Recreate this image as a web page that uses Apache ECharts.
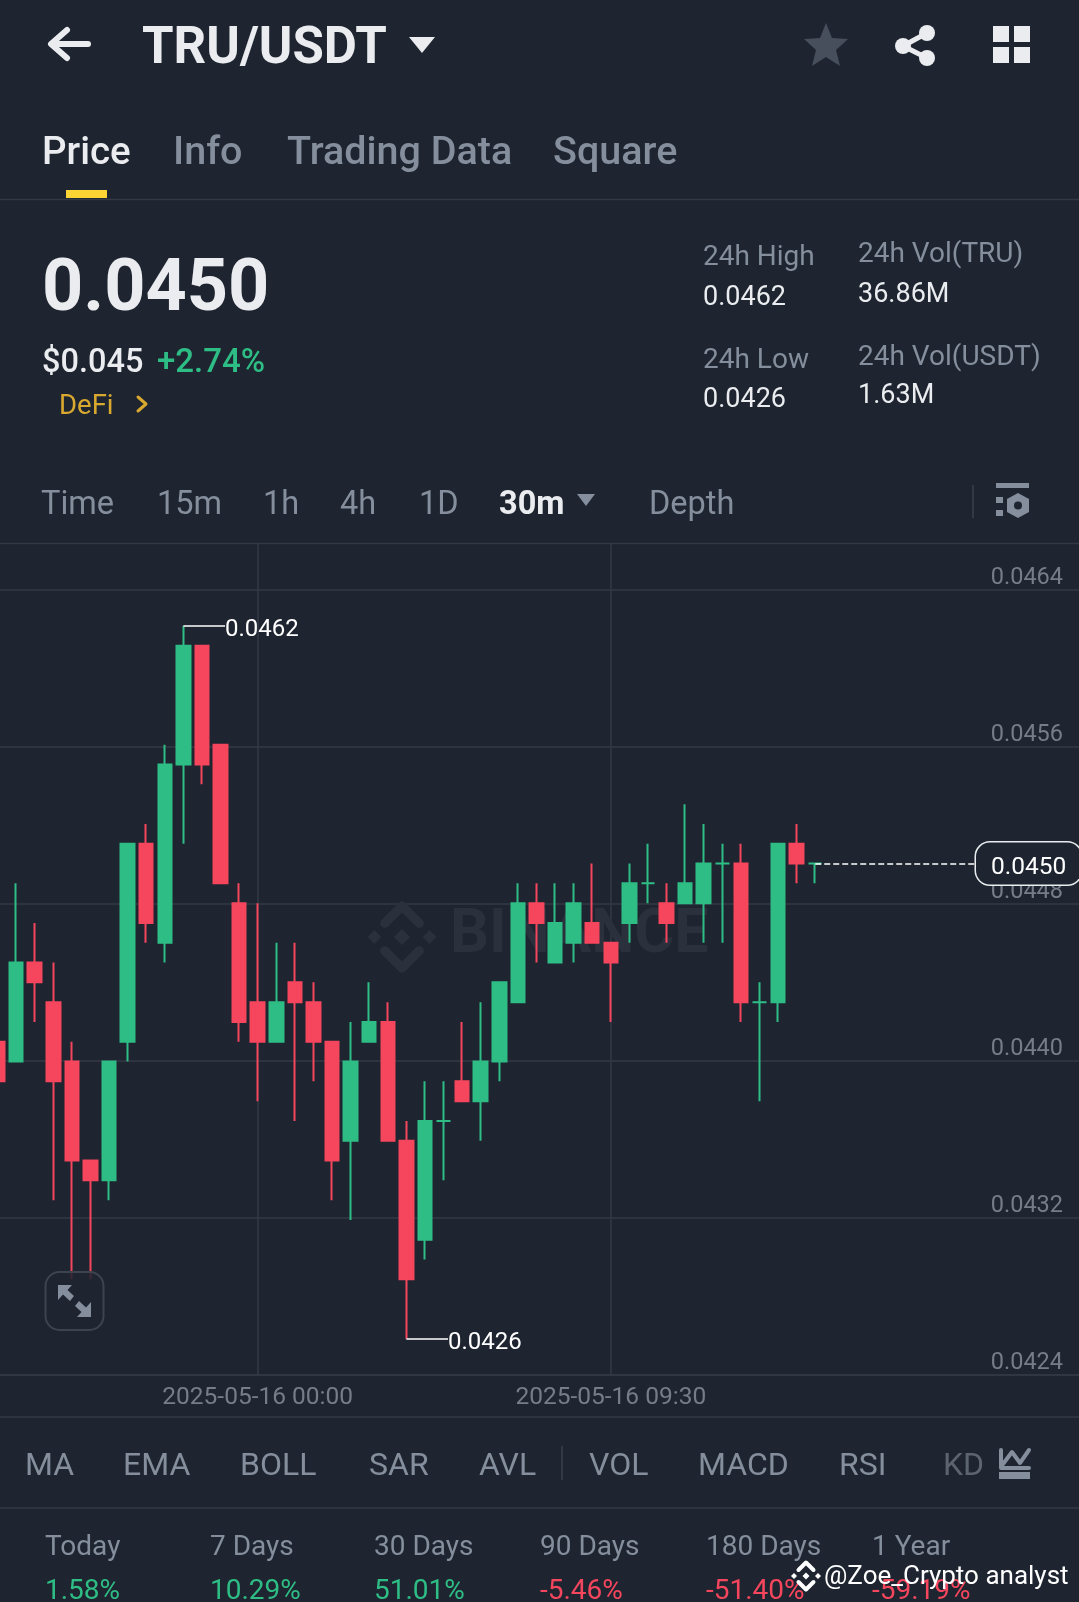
<!DOCTYPE html>
<html>
<head>
<meta charset="utf-8">
<style>html,body{margin:0;padding:0;background:#1e2530;}#main{width:1079px;height:1602px;}</style>
<script src="https://cdn.jsdelivr.net/npm/echarts@6/dist/echarts.min.js"></script>
</head>
<body>
<div id="main"></div>
<script>
// 30m candles
var categories = [
  '2025-05-15 17:00','2025-05-15 17:30','2025-05-15 18:00','2025-05-15 18:30','2025-05-15 19:00','2025-05-15 19:30',
  '2025-05-15 20:00','2025-05-15 20:30','2025-05-15 21:00','2025-05-15 21:30','2025-05-15 22:00','2025-05-15 22:30',
  '2025-05-15 23:00','2025-05-15 23:30','2025-05-16 00:00','2025-05-16 00:30','2025-05-16 01:00','2025-05-16 01:30',
  '2025-05-16 02:00','2025-05-16 02:30','2025-05-16 03:00','2025-05-16 03:30','2025-05-16 04:00','2025-05-16 04:30',
  '2025-05-16 05:00','2025-05-16 05:30','2025-05-16 06:00','2025-05-16 06:30','2025-05-16 07:00','2025-05-16 07:30',
  '2025-05-16 08:00','2025-05-16 08:30','2025-05-16 09:00','2025-05-16 09:30','2025-05-16 10:00','2025-05-16 10:30',
  '2025-05-16 11:00','2025-05-16 11:30','2025-05-16 12:00','2025-05-16 12:30','2025-05-16 13:00','2025-05-16 13:30',
  '2025-05-16 14:00','2025-05-16 14:30','2025-05-16 15:00','2025-05-16 15:30','2025-05-16 16:00','2025-05-16 16:30',
  '2025-05-16 17:00','2025-05-16 17:30','2025-05-16 18:00','2025-05-16 18:30','2025-05-16 19:00','2025-05-16 19:30',
  '2025-05-16 20:00','2025-05-16 20:30','2025-05-16 21:00','2025-05-16 21:30','2025-05-16 22:00','2025-05-16 22:30'
];
var opens  = [0.0441,0.0440,0.0445,0.0443,0.0440,0.0435,0.0434,0.0441,0.0451,0.0446,0.0455,0.0461,0.0456,0.0448,0.0443,
              0.0441,0.0444,0.0443,0.0441,0.0436,0.0441,0.0442,0.0436,0.0431,0.0437,0.0439,0.0438,0.0440,0.0443,0.0448,
              0.0445,0.0446,0.0447,0.0446,0.0447,0.0449,0.0448,0.0448,0.0448,0.0450,0.0450,0.0443,0.0443,0.0451,0.0450];
var closes = [0.0439,0.0445,0.0444,0.0439,0.0435,0.0434,0.0440,0.0451,0.0447,0.0455,0.0461,0.0455,0.0449,0.0442,0.0441,
              0.0443,0.0443,0.0441,0.0435,0.0440,0.0442,0.0436,0.0429,0.0437,0.0437,0.0438,0.0440,0.0444,0.0448,0.0447,
              0.0447,0.0448,0.0446,0.0445,0.0449,0.0449,0.0447,0.0449,0.0450,0.0450,0.0443,0.0443,0.0451,0.0450,0.0450];
var lows   = [0.0439,0.0440,0.0442,0.0433,0.0429,0.0429,0.0433,0.0440,0.0446,0.0445,0.0451,0.0454,0.0449,0.0441,0.0438,
              0.0441,0.0437,0.0439,0.0433,0.0432,0.0441,0.0436,0.0426,0.0430,0.0434,0.0438,0.0436,0.0439,0.0443,0.0445,
              0.0445,0.0445,0.0446,0.0442,0.0446,0.0448,0.0446,0.0448,0.0446,0.0446,0.0442,0.0438,0.0442,0.0449,0.0449];
var highs  = [0.0441,0.0449,0.0447,0.0445,0.0441,0.0435,0.0440,0.0451,0.0452,0.0456,0.0462,0.0461,0.0456,0.0449,0.0448,
              0.0446,0.0446,0.0444,0.0441,0.0442,0.0444,0.0443,0.0437,0.0439,0.0439,0.0442,0.0443,0.0444,0.0449,0.0449,
              0.0449,0.0449,0.0450,0.0446,0.0450,0.0451,0.0449,0.0453,0.0452,0.0451,0.0451,0.0444,0.0451,0.0452,0.0450];
// the gridlines sit on unround prices, the labels only show four decimals
var priceTicks = [0.042417,0.04321,0.044003,0.044796,0.045589,0.046382];
var timeTicks = ['2025-05-16 00:00','2025-05-16 09:30'];
var highIndex = 10, highPrice = 0.0462;
var lowIndex = 22, lowPrice = 0.0426;
var lastIndex = 44, lastPrice = 0.0450;

var tabs = ['Price','Info','Trading Data','Square'];
var intervals = ['Time','15m','1h','4h','1D','30m','Depth'];
var indicators = ['MA','EMA','BOLL','SAR','AVL','VOL','MACD','RSI','KD'];
var periodNames = ['Today','7 Days','30 Days','90 Days','180 Days','1 Year'];
var periodValues = ['1.58%','10.29%','51.01%','-5.46%','-51.40%','-59.19%'];

var BG = '#1e2530', GRIDC = '#333945', GREY = '#848e9c', WHITE = '#eaecef', GREEN = '#2ebd85', RED = '#f6465d';
var FONT = 'Roboto';

function txt(x, y, s, size, color, weight, z) {
  return {type: 'text', x: x, y: y, z: z || 5, silent: true,
    style: {text: s, fill: color, font: (weight || 'normal') + ' ' + size + 'px ' + FONT, textVerticalAlign: 'middle', textBaseline: 'middle'}};
}
function rule(x1, y1, x2, y2, color, w) {
  return {type: 'line', z: 5, silent: true, shape: {x1: x1, y1: y1, x2: x2, y2: y2}, style: {stroke: color, lineWidth: w || 1.5}};
}
function poly(points, color, z) {
  return {type: 'polygon', z: z || 5, silent: true, shape: {points: points}, style: {fill: color}};
}
function stroke(points, color, w, z) {
  return {type: 'polyline', z: z || 5, silent: true, shape: {points: points}, style: {stroke: color, lineWidth: w, fill: null, lineJoin: 'round', lineCap: 'round'}};
}
function box(x, y, w, h, color, r, z) {
  return {type: 'rect', z: z || 5, silent: true, shape: {x: x, y: y, width: w, height: h, r: r || 0}, style: {fill: color}};
}
function dot(x, y, r, color) {
  return {type: 'circle', z: 5, silent: true, shape: {cx: x, cy: y, r: r}, style: {fill: color}};
}
function logo(cx, cy, k, color, z) {
  function d(x, y, r) { return poly([[cx + x, cy + y - r], [cx + x + r, cy + y], [cx + x, cy + y + r], [cx + x - r, cy + y]], color, z); }
  return [
    d(0, 0, 7 * k), d(-24 * k, 0, 6 * k), d(24 * k, 0, 6 * k),
    stroke([[cx - 15 * k, cy - 12 * k], [cx, cy - 27 * k], [cx + 15 * k, cy - 12 * k]], color, 8 * k, z),
    stroke([[cx - 15 * k, cy + 12 * k], [cx, cy + 27 * k], [cx + 15 * k, cy + 12 * k]], color, 8 * k, z)
  ];
}
// label for a price leader line, rich text so the top padding moves the digits
function priceLabel(price, size, extra) {
  var label = {show: true, position: 'end', distance: 0, formatter: '{v|' + price.toFixed(4) + '}',
    rich: {v: {color: '#ffffff', fontSize: size, fontFamily: FONT}}, padding: [8, 0, 0, 0]};
  for (var k in extra) { label[k] = extra[k]; }
  return label;
}

var ui = [];
// header
ui.push(stroke([[88, 44], [52, 44]], WHITE, 6), stroke([[67, 30], [51, 44], [67, 58]], WHITE, 6));
ui.push(txt(142, 50, 'TRU/USDT', 51, WHITE, 'bold'));
ui.push(poly([[409, 37], [435, 37], [422, 53]], WHITE));
ui.push(poly([[826, 23], [832, 38], [848, 39], [836, 50], [840, 66], [826, 57], [812, 66], [816, 50], [804, 39], [820, 38]], '#474f5c'));
ui.push(stroke([[927, 33], [903, 46], [927, 58]], WHITE, 5), dot(927, 33, 8, WHITE), dot(903, 46, 8, WHITE), dot(927, 58, 8, WHITE));
ui.push(box(993, 26, 16, 16, WHITE), box(1014, 26, 16, 16, WHITE), box(993, 47, 16, 16, WHITE), box(1014, 47, 16, 16, WHITE));
// tabs
var tabX = [42, 173, 287, 553];
tabs.forEach(function (s, i) { ui.push(txt(tabX[i], 154, s, i === 0 ? 38.5 : 39.5, i === 0 ? WHITE : GREY, '500')); });
ui.push(box(66, 190, 41, 8, '#fcd535'));
ui.push(rule(0, 199.5, 1079, 199.5, GRIDC));
// price block
ui.push(txt(42, 292, '0.0450', 72, WHITE, 'bold'));
ui.push(txt(42, 364, '$0.045', 32.5, WHITE, '500'));
ui.push(txt(157, 364, '+2.74%', 33, GREEN, '500'));
ui.push(txt(59, 407, 'DeFi', 27.5, '#d9a82f'));
ui.push(stroke([[138, 397], [146, 404], [138, 411]], '#d9a82f', 3));
ui.push(txt(703, 258, '24h High', 28, GREY), txt(703, 298, '0.0462', 27, WHITE));
ui.push(txt(703, 361, '24h Low', 28, GREY), txt(703, 400, '0.0426', 27, WHITE));
ui.push(txt(858, 255, '24h Vol(TRU)', 28, GREY), txt(858, 295, '36.86M', 27, WHITE));
ui.push(txt(858, 358, '24h Vol(USDT)', 28, GREY), txt(858, 396, '1.63M', 27, WHITE));
// interval row
var intervalX = [41, 157, 263, 340, 419, 499, 649];
intervals.forEach(function (s, i) { ui.push(txt(intervalX[i], 506, s, 32.5, i === 5 ? WHITE : GREY, i === 5 ? 'bold' : 'normal')); });
ui.push(poly([[577, 494], [595, 494], [586, 506]], GREY));
ui.push(rule(973, 485, 973, 518, GRIDC, 2));
ui.push(box(996, 483, 33, 5, GREY), box(996, 497, 7, 6, GREY), box(996, 510, 7, 6, GREY));
ui.push(poly([[1018, 493], [1029, 499], [1029, 512], [1018, 518], [1007, 512], [1007, 499]], GREY), dot(1018, 505.5, 4, BG));
ui.push(rule(0, 543.5, 1079, 543.5, GRIDC));
// watermark behind the candles
ui = ui.concat(logo(402, 937, 1.15, '#2b313c', 1));
ui.push(txt(450, 937, 'BINANCE', 61, '#2b313c', 'bold', 1));
// expand button
ui.push({type: 'rect', z: 10, silent: true, shape: {x: 45.5, y: 1272, width: 58, height: 58, r: 14}, style: {fill: 'rgba(30,37,48,0.85)', stroke: '#3d4450', lineWidth: 2}});
ui.push(poly([[58, 1285], [72, 1285], [67.5, 1290], [74, 1296], [70, 1301], [63, 1294.5], [58, 1300]], GREY, 11));
ui.push(poly([[91, 1317], [77, 1317], [81.5, 1312], [75, 1306], [79, 1301], [86, 1307.5], [91, 1302]], GREY, 11));
// indicators
ui.push(rule(0, 1417, 1079, 1417, GRIDC), rule(0, 1508, 1079, 1508, GRIDC));
var indicatorX = [25, 123, 240, 369, 479, 589, 698, 839, 943];
indicators.forEach(function (s, i) { ui.push(txt(indicatorX[i], 1467, s, 32, i === 8 ? '#5c6470' : GREY)); });
ui.push(rule(562, 1446, 562, 1480, GRIDC, 2));
ui.push({type: 'rect', z: 6, silent: true, shape: {x: 985, y: 1440, width: 14, height: 46},
  style: {fill: new echarts.graphic.LinearGradient(0, 0, 1, 0, [{offset: 0, color: 'rgba(30,37,48,0)'}, {offset: 1, color: BG}])}});
ui.push(box(999, 1472, 31, 7, GREY, 0, 7));
ui.push(stroke([[1001, 1450], [1001, 1468], [1029, 1468]], GREY, 4, 7), stroke([[1003, 1464], [1012, 1452], [1020, 1463], [1029, 1450]], GREY, 4, 7));
// period stats
var periodX = [45, 210, 374, 540, 706, 872];
periodNames.forEach(function (s, i) { ui.push(txt(periodX[i], 1548, s, 28, GREY)); });
periodValues.forEach(function (s, i) { ui.push(txt(periodX[i], 1592, s, 28, s.charAt(0) === '-' ? RED : GREEN)); });
ui = ui.concat(logo(806, 1576, 0.5, '#ffffff', 20));
ui.push(txt(824, 1577, '@Zoe_Crypto analyst', 26, '#ffffff', 'normal', 20));

var dom = document.getElementById('main');
var myChart = echarts.init(dom);
var option = {
  animation: false,
  backgroundColor: BG,
  textStyle: {fontFamily: FONT},
  grid: {left: -2.5, width: 1096.5, top: 544, height: 831, outerBoundsMode: 'none'},
  xAxis: {
    type: 'category',
    data: categories,
    boundaryGap: false,
    axisLine: {lineStyle: {color: GRIDC, width: 1.5}},
    axisTick: {show: false},
    axisLabel: {
      color: '#767d89', fontSize: 24.5, margin: 10, fontFamily: FONT,
      interval: function (i, v) { return timeTicks.indexOf(v) >= 0; }
    },
    splitLine: {
      show: true,
      interval: function (i, v) { return timeTicks.indexOf(v) >= 0; },
      lineStyle: {color: GRIDC, width: 1.5}
    }
  },
  yAxis: {
    type: 'value',
    position: 'right',
    min: 0.042417,
    max: 0.046614,
    axisLine: {show: false},
    axisTick: {show: false, customValues: priceTicks},
    axisLabel: {
      inside: true, customValues: priceTicks, color: '#767d89', fontSize: 23.5, margin: 31,
      verticalAlign: 'bottom', fontFamily: FONT,
      formatter: function (v) { return v.toFixed(4); }
    },
    splitLine: {show: true, lineStyle: {color: GRIDC, width: 1.5}}
  },
  graphic: ui,
  series: [{
    type: 'candlestick',
    barWidth: 14,
    itemStyle: {color: GREEN, color0: RED, borderColor: GREEN, borderColor0: RED, borderWidth: 2},
    data: opens.map(function (o, i) { return [o, closes[i], lows[i], highs[i]]; }),
    markLine: {
      silent: true,
      symbol: 'none',
      animation: false,
      lineStyle: {color: '#ffffff', type: 'solid', width: 1.5},
      data: [
        [{coord: [highIndex, highPrice]},
         {coord: [highIndex + 2, highPrice], x: 225, label: priceLabel(highPrice, 24)}],
        [{coord: [lowIndex, lowPrice]},
         {coord: [lowIndex + 2, lowPrice], x: 448, label: priceLabel(lowPrice, 24)}],
        [{coord: [lastIndex, lastPrice], lineStyle: {type: 'dashed', color: '#ffffff', width: 1.5}},
         {coord: [lastIndex + 8, lastPrice], x: 976, lineStyle: {type: 'dashed', color: '#ffffff', width: 1.5},
          label: priceLabel(lastPrice, 24.5, {backgroundColor: BG, borderColor: '#eaecef', borderWidth: 1.5, borderRadius: 14, padding: [13, 15, 4, 15]})}]
      ]
    }
  }]
};
myChart.setOption(option, true);
</script>
</body>
</html>
